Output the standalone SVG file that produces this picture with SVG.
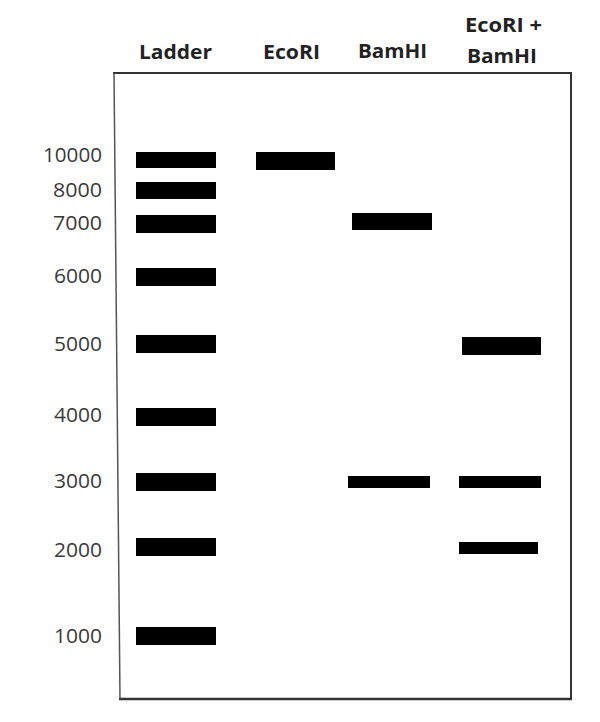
<svg xmlns="http://www.w3.org/2000/svg" width="600" height="722" viewBox="0 0 600 722">
<style>
.hdr{font-family:"Open Sans","Liberation Sans",sans-serif;font-weight:bold;font-size:19px;fill:#222;text-anchor:middle}
.num{font-family:"Open Sans","Liberation Sans",sans-serif;font-size:20px;fill:#3a3a3a;text-anchor:end}
.band{fill:#000}
</style>
<rect width="600" height="722" fill="#fff"/>
<g id="gel-frame" fill="none" stroke="#333">
<line x1="113" y1="73" x2="572" y2="73" stroke-width="2"/>
<line x1="571" y1="73" x2="571" y2="700" stroke-width="2"/>
<line x1="119" y1="699" x2="572" y2="699" stroke-width="2.5"/>
<line x1="114" y1="73" x2="120" y2="699" stroke-width="1.5" stroke="#555"/>
</g>
<g id="headers">
<text class="hdr" x="175.5" y="59" textLength="73" lengthAdjust="spacingAndGlyphs">Ladder</text>
<text class="hdr" x="291.5" y="59" textLength="57" lengthAdjust="spacingAndGlyphs">EcoRI</text>
<text class="hdr" x="392.5" y="58" textLength="69" lengthAdjust="spacingAndGlyphs">BamHI</text>
<text class="hdr" x="503.5" y="32" textLength="77" lengthAdjust="spacingAndGlyphs">EcoRI +</text>
<text class="hdr" x="502" y="63" textLength="70" lengthAdjust="spacingAndGlyphs">BamHI</text>
</g>
<g id="size-labels">
<text class="num" x="102" y="162" textLength="59" lengthAdjust="spacingAndGlyphs">10000</text>
<text class="num" x="102" y="197" textLength="49" lengthAdjust="spacingAndGlyphs">8000</text>
<text class="num" x="102" y="230" textLength="49" lengthAdjust="spacingAndGlyphs">7000</text>
<text class="num" x="102" y="283" textLength="48" lengthAdjust="spacingAndGlyphs">6000</text>
<text class="num" x="102" y="351" textLength="48" lengthAdjust="spacingAndGlyphs">5000</text>
<text class="num" x="102" y="422" textLength="48" lengthAdjust="spacingAndGlyphs">4000</text>
<text class="num" x="102" y="488" textLength="48" lengthAdjust="spacingAndGlyphs">3000</text>
<text class="num" x="102" y="557" textLength="48" lengthAdjust="spacingAndGlyphs">2000</text>
<text class="num" x="102" y="643" textLength="48" lengthAdjust="spacingAndGlyphs">1000</text>
</g>
<g id="lane-ladder" class="band">
<rect x="136" y="152" width="80" height="16"/>
<rect x="136" y="182" width="80" height="17"/>
<rect x="136" y="215" width="80" height="18"/>
<rect x="136" y="268" width="80" height="18"/>
<rect x="136" y="335" width="80" height="18"/>
<rect x="136" y="408" width="80" height="18"/>
<rect x="136" y="473" width="80" height="18"/>
<rect x="136" y="538" width="80" height="18"/>
<rect x="136" y="627" width="80" height="18"/>
</g>
<g id="lane-ecori" class="band">
<rect x="256" y="152" width="79" height="18"/>
</g>
<g id="lane-bamhi" class="band">
<rect x="352" y="213" width="80" height="17"/>
<rect x="348" y="476" width="82" height="12"/>
</g>
<g id="lane-ecori-bamhi" class="band">
<rect x="462" y="337" width="79" height="18"/>
<rect x="459" y="476" width="82" height="12"/>
<rect x="459" y="542" width="79" height="12"/>
</g>
</svg>
